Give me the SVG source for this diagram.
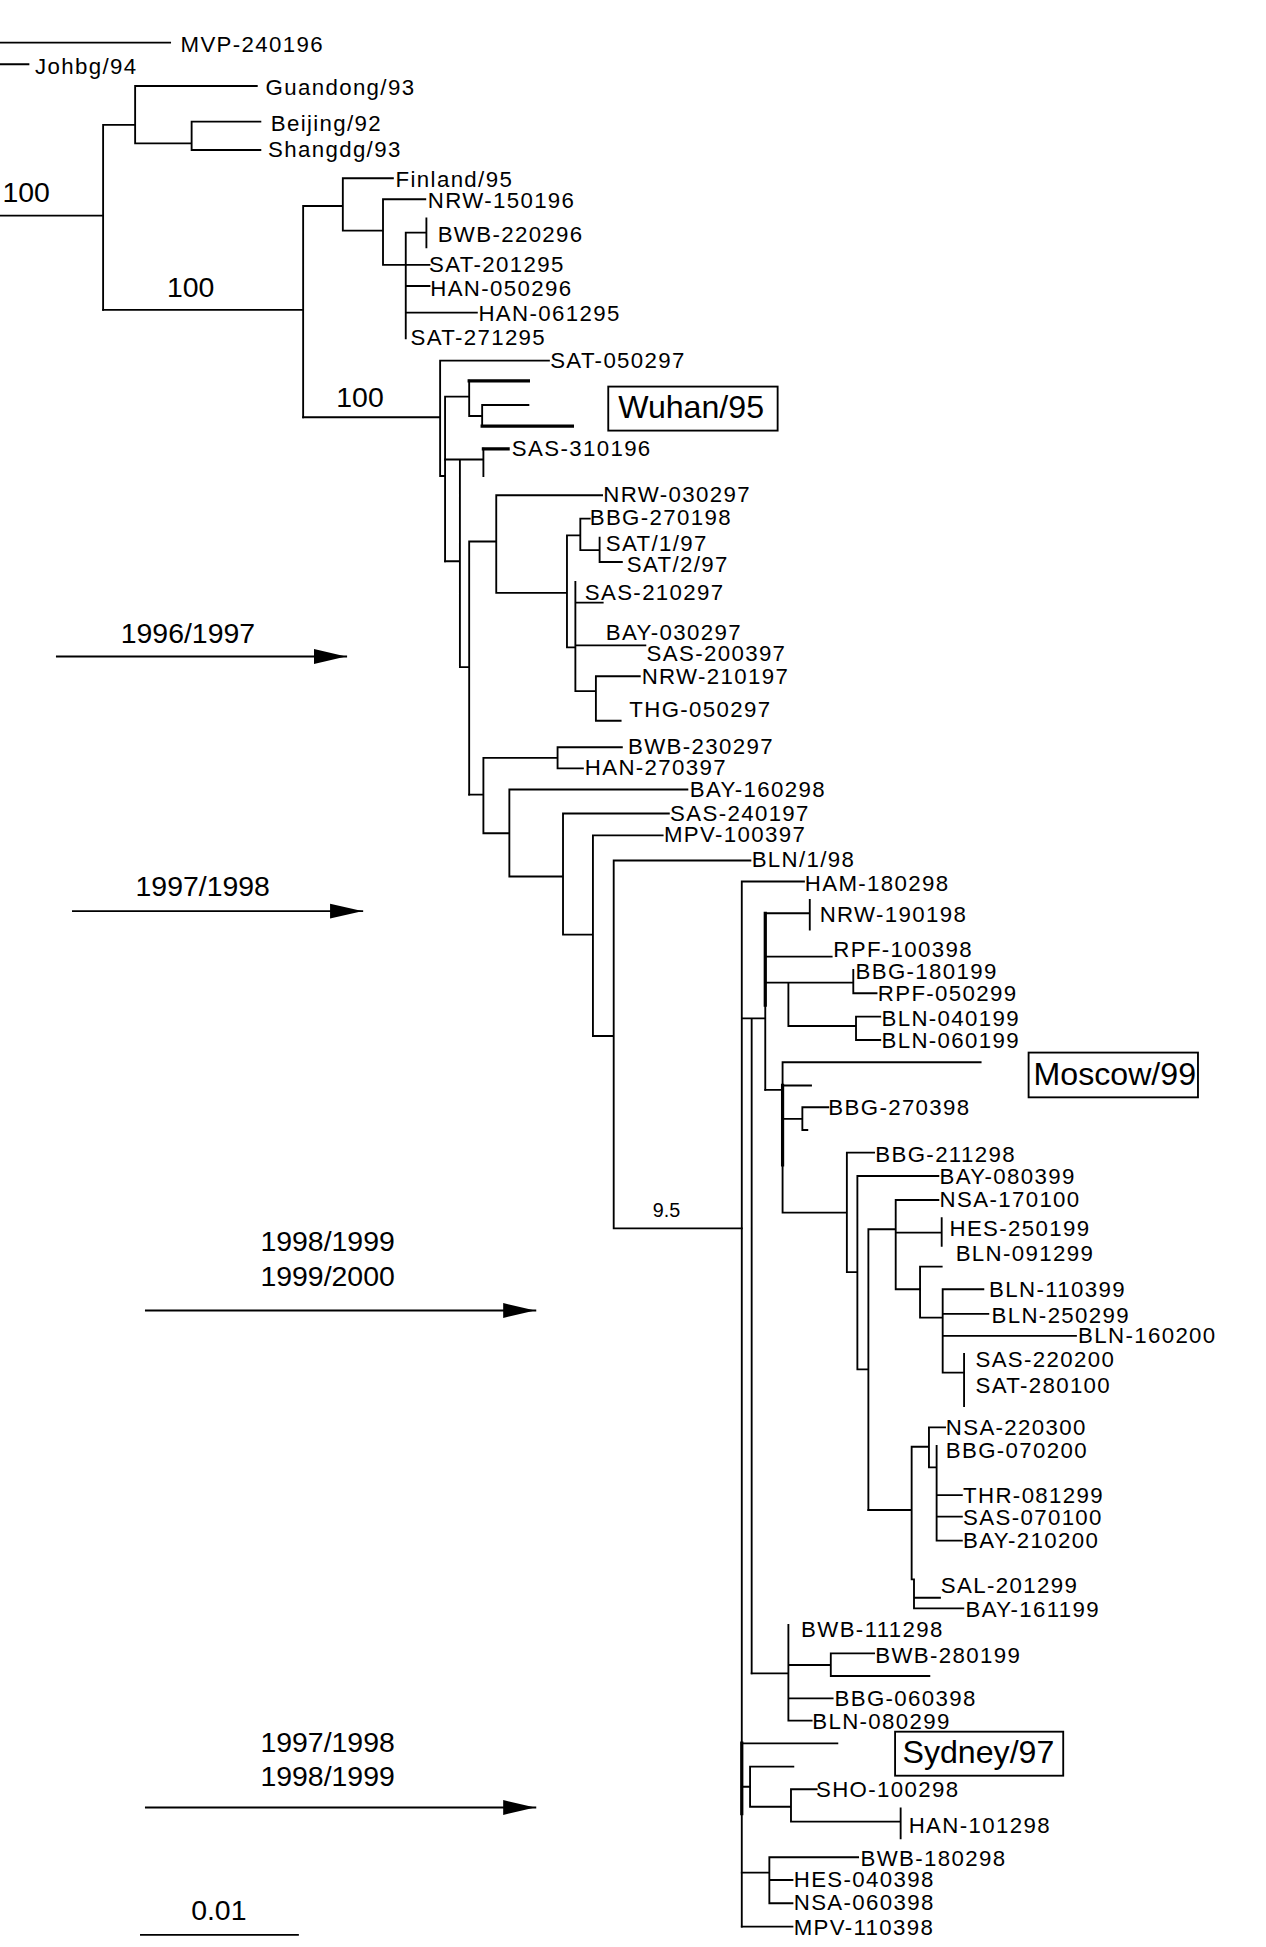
<svg xmlns="http://www.w3.org/2000/svg" width="1266" height="1947" viewBox="0 0 1266 1947">
<style>
.e{fill:none;stroke:#000;stroke-width:1.5;stroke-linecap:square}
.t{stroke-width:2.6}
text{font-family:"Liberation Sans",Arial,sans-serif;fill:#000}
.l{font-size:18px;letter-spacing:1.1px}
.b{font-size:23px}
.x{font-size:26px}
.bx{fill:none;stroke:#000;stroke-width:1.5}
</style>
<defs><marker id="ah" markerWidth="26" markerHeight="14" refX="26" refY="7" orient="auto" markerUnits="userSpaceOnUse"><path d="M0,1 L26,7 L0,13 Z" fill="#000"/></marker></defs>
<rect width="1266" height="1947" fill="#fff"/>
<g transform="scale(1.2363)">
<g id="connectors" class="e">
<path d="M0,34.5H137.6M0,52H23M0,174.4H83.4M83.4,101V250.7M83.4,101H109.3M109.3,69.6V116M109.3,69.6H207.7M109.3,116H155M155,98.4V121.3M155,98.4H210.6M155,121.3H210.6"/>
<path d="M83.4,250.7H245.2M245.2,166.6V337.5M245.2,166.6H277.3M277.3,144.2V186.6M277.3,144.2H317.8M277.3,186.6H309.8M309.8,161.2V214.3M309.8,161.2H344M309.8,214.3H347.4M328.2,188.2V273.6M328.2,188.2H344.9M344.9,176.6V200M328.2,231.3H347.4M328.2,252.9H385.7"/>
<path d="M245.2,337.5H356M356,291.7V385M356,291.7H444M356,385H360M360,320.8V454M360,320.8H379.5M379.5,308V336.5M379.5,336.5H390M390,327.6V344.6M390,327.6H427.4"/>
<path class="t" d="M379.5,308H427.4M390,344.6H463M391,363H411"/>
<path d="M360,371.7H391M391,363V385M360,454H372M372,371.7V539.6M372,539.6H379.5M379.5,438V642.7M379.5,438H401.4M401.4,400.6V479.5M401.4,400.6H487M401.4,479.5H458.6M458.6,433V523.6M458.6,433H469.4M469.4,419.5V445M469.4,419.5H477M469.4,445H485M485,435V454.6M485,454.6H503M458.6,523.6H465.4M465.4,470.8V559M465.4,487.5H487.5M465.4,522H522M465.4,559H482M482,547V583M482,547H517.5M482,583H502"/>
<path d="M379.5,642.7H391M391,613V674M391,613H451M451,604.4V621.5M451,604.4H503M451,621.5H471.5M391,674H412M412,638.6V709M412,638.6H556M412,709H455.4M455.4,658V756M455.4,658H541M455.4,756H479.6M479.6,675.7V838M479.6,675.7H536M479.6,838H496.4M496.4,696V993.6M496.4,696H607M496.4,993.6H600"/>
<path d="M600,713V1558.4M600,713H650.3M608,823.7V1353.5M600,823.7H608M608,823.7H619M619,738.7V881.6M619,738.7H655M655,728V752M619,773.8H672.7M619,794.8H637.7M637.7,794.8V829.9M637.7,794.8H690.2M690.2,784.6V803.4M690.2,803.4H709M637.7,829.9H692.4M692.4,822.3V841.2M692.4,822.3H712M692.4,841.2H712"/>
<path class="t" d="M619,738.7V813M633,878V942.3M600,1410V1467"/>
<path d="M619,881.6H633M633,859.2V980.8M633,859.2H793.2M633,878H656M633,905H649M649,895.6V914M649,895.6H670M649,914H653M633,980.8H685M685,932.3V1029M685,932.3H707M685,1029H693.5M693.5,951.2V1107.6M693.5,951.2H759M693.5,1107.6H702.4M702.4,994.3V1221.4M702.4,994.3H724.5M724.5,970.6V1042.8M724.5,970.6H759M724.5,997H761.7M761.7,985.4V1007.8M724.5,1042.8H744.2M744.2,1024.5V1065.8M744.2,1024.5H761.7M744.2,1065.8H762.5M762.5,1042.8V1110.3M762.5,1042.8H795.4M762.5,1062.8H799.4M762.5,1080.5H870.3M762.5,1110.3H779.8M779.8,1095.2V1137.3"/>
<path d="M702.4,1221.4H737.4M737.4,1170.2V1277.5M737.4,1170.2H751.4M751.4,1154.5V1186.9M751.4,1154.5H764.4M751.4,1186.9H757.6M757.6,1169.6V1246.2M757.6,1209.3H778M757.6,1226.8H778M757.6,1246.2H778M737.4,1277.5H739.3M739.3,1277.5V1301M739.3,1292.4H760.3M739.3,1301H779.2"/>
<path d="M608,1353.5H637.7M637.7,1314.4V1391.8M637.7,1346.8H672M672,1337.3V1355.7M672,1337.3H707M672,1355.7H751.7M637.7,1373.7H673.5M637.7,1391.8H656.5M600,1410.1H677.3M600,1445.2H606.7M606.7,1429V1461.4M606.7,1429H641.7M606.7,1461.4H639.8M639.8,1447.3V1473.5M639.8,1447.3H660.6M639.8,1473.5H728.5M728.5,1462.7V1487M600,1514.7H622.3M622.3,1502.3V1539.5M622.3,1502.3H694.1M622.3,1520.7H641M622.3,1539.5H641M600,1558.4H641"/>
<path d="M46,531H280" marker-end="url(#ah)"/>
<path d="M59,737H293" marker-end="url(#ah)"/>
<path d="M118,1060H433" marker-end="url(#ah)"/>
<path d="M118,1462H433" marker-end="url(#ah)"/>
<path d="M114,1565H241"/>
</g>
<g id="boot" class="b"><text x="2" y="163">100</text><text x="135" y="240">100</text><text x="272" y="329.5">100</text><text x="528" y="984" style="font-size:16px">9.5</text></g>
<g id="strains-top" class="l">
<text x="146" y="42.3">MVP-240196</text><text x="28.4" y="59.8">Johbg/94</text><text x="214.8" y="76.8">Guandong/93</text><text x="219" y="105.7">Beijing/92</text><text x="216.8" y="127.3">Shangdg/93</text>
<text x="320" y="151.5">Finland/95</text><text x="346" y="168.5">NRW-150196</text><text x="354" y="195.5">BWB-220296</text><text x="347" y="219.7">SAT-201295</text><text x="348" y="239.4">HAN-050296</text><text x="387" y="259.4">HAN-061295</text><text x="332" y="279">SAT-271295</text>
<text x="445" y="298">SAT-050297</text><text x="414" y="369">SAS-310196</text>
<text x="488" y="406">NRW-030297</text><text x="477" y="425">BBG-270198</text><text x="490" y="445.7">SAT/1/97</text><text x="507" y="462.7">SAT/2/97</text><text x="473" y="485.6">SAS-210297</text><text x="490" y="518">BAY-030297</text><text x="523" y="535">SAS-200397</text><text x="519" y="553.6">NRW-210197</text><text x="509" y="580">THG-050297</text>
<text x="508" y="610">BWB-230297</text><text x="473" y="627">HAN-270397</text><text x="558" y="645">BAY-160298</text><text x="542" y="664">SAS-240197</text><text x="537" y="681">MPV-100397</text><text x="608" y="701">BLN/1/98</text>
</g>
<g id="strains-9899" class="l">
<text x="651" y="721">HAM-180298</text><text x="663" y="745.5">NRW-190198</text><text x="674" y="773.8">RPF-100398</text><text x="692" y="792">BBG-180199</text><text x="710" y="810">RPF-050299</text><text x="713" y="829.9">BLN-040199</text><text x="713" y="848">BLN-060199</text><text x="670" y="901.8">BBG-270398</text>
<text x="708" y="939.6">BBG-211298</text><text x="760" y="957.7">BAY-080399</text><text x="760" y="976.5">NSA-170100</text><text x="768" y="999.7">HES-250199</text><text x="773" y="1019.7">BLN-091299</text><text x="800" y="1049.3">BLN-110399</text><text x="802" y="1069.8">BLN-250299</text><text x="872" y="1086.5">BLN-160200</text><text x="789" y="1106">SAS-220200</text><text x="789" y="1127">SAT-280100</text>
<text x="765" y="1160.7">NSA-220300</text><text x="765" y="1179.6">BBG-070200</text><text x="779" y="1216">THR-081299</text><text x="779" y="1233.5">SAS-070100</text><text x="779" y="1252.4">BAY-210200</text><text x="761" y="1288.8">SAL-201299</text><text x="781" y="1307.7">BAY-161199</text>
<text x="648" y="1323.9">BWB-111298</text><text x="708" y="1345">BWB-280199</text><text x="675" y="1380">BBG-060398</text><text x="657" y="1398.8">BLN-080299</text>
<text x="660" y="1453.3">SHO-100298</text><text x="735" y="1482.4">HAN-101298</text><text x="696" y="1509.3">BWB-180298</text><text x="642" y="1526.6">HES-040398</text><text x="642" y="1545">NSA-060398</text><text x="642" y="1565">MPV-110398</text>
</g>
<g id="ref-wuhan"><rect class="bx" x="492" y="312.7" width="137" height="35.6"/><text class="x" x="500" y="338.3">Wuhan/95</text></g>
<g id="ref-moscow"><rect class="bx" x="832" y="851.4" width="137" height="36.2"/><text class="x" x="836" y="877.6">Moscow/99</text></g>
<g id="ref-sydney"><rect class="bx" x="724" y="1400.7" width="136" height="35.6"/><text class="x" x="730" y="1426.3">Sydney/97</text></g>
<g id="seasons" class="b" text-anchor="middle">
<text x="152" y="520">1996/1997</text><text x="164" y="725">1997/1998</text>
<text x="265" y="1012">1998/1999</text><text x="265" y="1040">1999/2000</text>
<text x="265" y="1417">1997/1998</text><text x="265" y="1445">1998/1999</text>
<text x="177" y="1553">0.01</text>
</g>
</g>
</svg>
